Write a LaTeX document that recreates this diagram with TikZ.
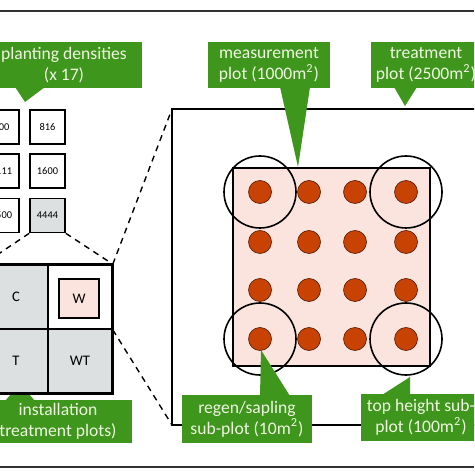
\documentclass[tikz,border=0pt]{standalone}
\usepackage{fontspec}
\setmainfont{Carlito}
\usetikzlibrary{positioning}

\definecolor{calloutgreen}{RGB}{62,150,28}
\definecolor{calltext}{RGB}{240,246,226}
\definecolor{plotpink}{RGB}{252,228,222}
\definecolor{plotgray}{RGB}{221,224,224}
\definecolor{treedot}{RGB}{200,66,4}

\begin{document}
\begin{tikzpicture}[x = 0.5pt, y = -0.5pt,
	callout/.style = {fill = calloutgreen, text = calltext, align = center, inner sep = 0pt,
		font = \fontsize{8.8}{10.6}\selectfont},
	densitybox/.style = {draw, line width = 0.85pt, minimum width = 17.5pt, minimum height = 17pt,
		inner sep = 0pt, font = \fontsize{5.2}{6}\selectfont},
	cell/.style = {draw, line width = 0.8pt, minimum width = 32pt, minimum height = 32pt,
		inner sep = 0pt, font = \fontsize{7.3}{8}\selectfont},
	zoomline/.style = {dash pattern = on 3pt off 2.5pt, line width = 0.7pt},
	tree/.style = {fill = treedot, draw = black!60!treedot, line width = 0.3pt},
	subplot/.style = {draw, line width = 0.8pt}]
	
		\clip (0, 0) rectangle (474, 474);
		\fill[white] (0, 0) rectangle (474, 474);
		
		\draw[line width = 0.6pt, black!80] (0, 11) -- (474, 11);
		\draw[line width = 0.6pt, black!80] (0, 467) -- (474, 467);
		
		% planting densities
		\node[densitybox] (d400) at (1.5, 127) {400};
		\node[densitybox] (d816) at (47.5, 127) {816};
		\node[densitybox] (d1111) at (1.5, 171) {1111};
		\node[densitybox] (d1600) at (47.5, 171) {1600};
		\node[densitybox] (d2500) at (1.5, 215.5) {2500};
		\node[densitybox, fill = plotgray] (d4444) at (47.5, 215.5) {4444};
		
		% installation
		\fill[calloutgreen] (5, 401) -- (20, 384) -- (35, 401) -- cycle;
		\node[cell, fill = plotgray] (cellC) at (16, 297) {C};
		\node[cell] (cellW) at (80, 297) {};
		\node[cell, fill = plotgray] (cellT) at (16, 361) {T};
		\node[cell, fill = plotgray] (cellWT) at (80, 361) {WT};
		\node[draw, line width = 0.9pt, fill = plotpink, minimum width = 20pt, minimum height = 19.5pt,
			inner sep = 0pt, font = \fontsize{7.3}{8}\selectfont] (plotW) at (79, 298.5) {W};
		\draw[line width = 1.1pt] (cellC.north west) rectangle (cellWT.south east);
		
		% treatment plot
		\coordinate (treatNW) at (172, 109);
		\coordinate (treatSW) at (172, 425);
		\draw[zoomline] (d4444.south east) -- (cellW.north east);
		\draw[zoomline] (d4444.south west) -- (cellC.north west);
		\draw[zoomline] (cellW.north east) -- (treatNW);
		\draw[zoomline] (cellW.south east) -- (treatSW);
		\draw[line width = 1pt] (treatNW) rectangle (490, 425);
		
		\draw[line width = 0.9pt, fill = plotpink] (233, 168) rectangle (430, 366);
		\foreach \x in {260, 309, 355, 406}
			\foreach \y in {192, 242, 290, 339}
				\filldraw[tree] (\x, \y) circle (5.75pt);
		\foreach \x/\y in {260/192, 406/192, 260/339, 406/339}
			\draw[subplot] (\x, \y) circle (18pt);
		
		% callouts
		\node[callout, minimum width = 78pt, minimum height = 23pt] (densities) at (64, 65)
			{planting densities\\(x 17)};
		\fill[calloutgreen] (15, 87) -- (25, 102) -- (45, 87) -- cycle;
		
		\node[callout, minimum width = 61pt, minimum height = 23pt] (measurement) at (269, 65)
			{measurement\\plot (1000m\textsuperscript{2})};
		\fill[calloutgreen] (280, 87) -- (298, 167) -- (310, 87) -- cycle;
		
		\node[callout, minimum width = 55pt, minimum height = 23pt] (treatment) at (426, 65)
			{treatment\\plot (2500m\textsuperscript{2})};
		\fill[calloutgreen] (394, 87) -- (405, 106) -- (417, 87) -- cycle;
		
		\node[callout, minimum width = 74pt, minimum height = 21.5pt] (installation) at (58, 421.5)
			{installation\\treatment plots)};
		
		\node[callout, minimum width = 65pt, minimum height = 24pt] (regen) at (247, 419)
			{regen/sapling\\sub-plot (10m\textsuperscript{2})};
		\fill[calloutgreen] (260, 396) -- (261, 350) -- (290, 396) -- cycle;
		
		\node[callout, minimum width = 60pt, minimum height = 23.5pt] (topheight) at (421, 417.5)
			{top height sub-\\plot (100m\textsuperscript{2})};
		\fill[calloutgreen] (382, 395) -- (410, 377) -- (410, 395) -- cycle;
	
	\end{tikzpicture}
\end{document}
